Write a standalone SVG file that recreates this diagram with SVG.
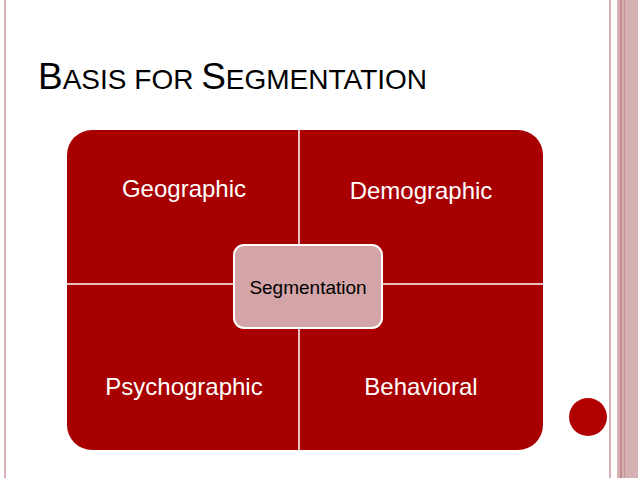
<svg xmlns="http://www.w3.org/2000/svg" width="638" height="478" viewBox="0 0 638 478">
<style>
.q{fill:#a80000}
.t{font-family:"Liberation Sans",Arial,sans-serif;fill:#fff;font-size:24px;text-anchor:middle}
</style>
<rect width="638" height="478" fill="#fff"/>
<rect x="4" y="0" width="2" height="478" fill="#d8b0b3"/>
<rect x="609" y="0" width="2" height="478" fill="#d8b0b3"/>
<rect x="617" y="0" width="21" height="478" fill="#d6b1b3"/>
<rect x="620" y="0" width="2" height="478" fill="#c48a8e"/>
<rect x="624" y="0" width="1" height="478" fill="#c9959a"/>
<text x="38" y="89" font-family="'Liberation Sans',Arial,sans-serif" font-size="28" fill="#000"><tspan font-size="37">B</tspan>ASIS FOR <tspan font-size="37">S</tspan>EGMENTATION</text>
<g id="grid">
<g id="geographic"><path class="q" d="M92,130 H299 V284 H67 V155 A25,25 0 0 1 92,130Z"/><text class="t" x="184" y="197">Geographic</text></g>
<g id="demographic"><path class="q" d="M299,130 H518 A25,25 0 0 1 543,155 V284 H299Z"/><text class="t" x="421" y="199">Demographic</text></g>
<g id="psychographic"><path class="q" d="M67,284 H299 V450 H92 A25,25 0 0 1 67,425Z"/><text class="t" x="184" y="395">Psychographic</text></g>
<g id="behavioral"><path class="q" d="M299,284 H543 V425 A25,25 0 0 1 518,450 H299Z"/><text class="t" x="421" y="395">Behavioral</text></g>
</g>
<g id="connectors">
<line x1="299" y1="130" x2="299" y2="450" stroke="#fff" stroke-width="1.5"/>
<line x1="67" y1="284" x2="543" y2="284" stroke="#fff" stroke-width="1.5"/>
</g>
<g id="segmentation"><rect x="234" y="245" width="148" height="83" rx="10" fill="#d4a5a8" stroke="#fff" stroke-width="2"/><text x="308" y="294" font-family="'Liberation Sans',Arial,sans-serif" font-size="19" text-anchor="middle" fill="#000">Segmentation</text></g>
<circle cx="588" cy="417" r="19" fill="#b00000"/>
</svg>
